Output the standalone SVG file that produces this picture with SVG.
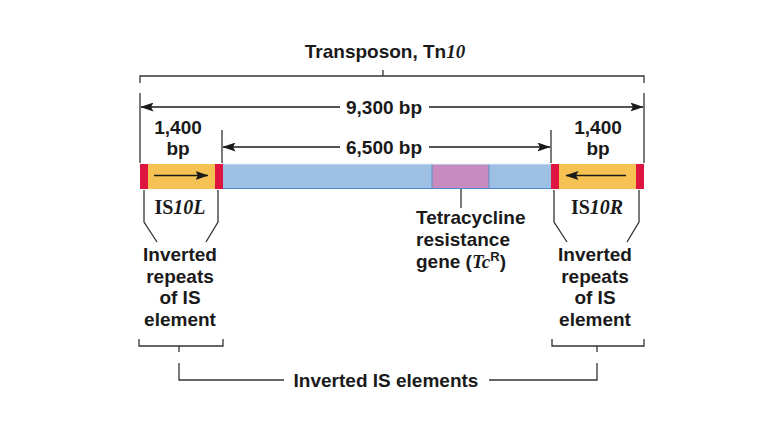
<svg xmlns="http://www.w3.org/2000/svg" width="768" height="432" viewBox="0 0 768 432">
<defs>
<marker id="ah" viewBox="0 0 13 9" refX="12.5" refY="4.5" markerWidth="13" markerHeight="9" markerUnits="userSpaceOnUse" orient="auto-start-reverse">
<path d="M0,0 L13,4.5 L0,9 L2.5,4.5 Z" fill="#1a1a1a"/>
</marker>
</defs>
<style>
text{font-family:"Liberation Sans",Arial,sans-serif;font-weight:bold;font-size:19px;fill:#1a1a1a}
.c{text-anchor:middle}
.it{font-family:"Liberation Serif","Times New Roman",serif;font-style:italic}
.sr{font-family:"Liberation Serif","Times New Roman",serif;font-size:20px}
.ln{fill:none;stroke:#333;stroke-width:1.3}
.ar{fill:none;stroke:#1a1a1a;stroke-width:1.5}
.red{fill:#e0153f}
.yel{fill:#f5c253}
.blu{fill:#9cbfe3}
.pnk{fill:#c78bbf}
</style>
<rect width="768" height="432" fill="#ffffff"/>

<g id="title">
<text class="c" x="385" y="58">Transposon, Tn<tspan class="it">10</tspan></text>
</g>

<g id="connectors">
<!-- top bracket -->
<path class="ln" d="M140,83 V76 H644 V83 M383,76 V70"/>
<!-- 9,300 bp dimension -->
<path class="ln" d="M140,93 V163 M644,93 V163 M222,130 V163 M551,130 V163"/>
<line class="ar" x1="340" y1="107" x2="141" y2="107" marker-end="url(#ah)"/>
<line class="ar" x1="429" y1="107" x2="643" y2="107" marker-end="url(#ah)"/>
<!-- 6,500 bp dimension -->
<line class="ar" x1="340" y1="147" x2="223" y2="147" marker-end="url(#ah)"/>
<line class="ar" x1="429" y1="147" x2="550" y2="147" marker-end="url(#ah)"/>
<!-- IS10L callout -->
<path class="ln" d="M144,190 V222 L157,242 M218,190 V222 L206,242"/>
<!-- IS10R callout -->
<path class="ln" d="M554,190 V222 L567,242 M639,190 V222 L627,242"/>
<!-- TcR pointer -->
<path class="ln" d="M461,189 V208"/>
<!-- bottom brackets -->
<path class="ln" d="M139,339 V346 H223 V339 M179,346 V352"/>
<path class="ln" d="M552,339 V346 H644 V339 M597,346 V352"/>
<path class="ln" d="M179,363 V380 H284 M489,380 H597 V363"/>
</g>

<g id="bar">
<rect class="blu" x="222" y="164" width="330" height="25"/>
<rect class="pnk" x="432" y="164" width="57" height="25"/>
<line x1="432" y1="164" x2="432" y2="189" stroke="#5a8fc8" stroke-width="1"/>
<line x1="489" y1="164" x2="489" y2="189" stroke="#5a8fc8" stroke-width="1"/>
<line x1="222" y1="188.5" x2="552" y2="188.5" stroke="#4a8ccc" stroke-width="1.2"/>
<line x1="222" y1="164.3" x2="552" y2="164.3" stroke="#c4daf0" stroke-width="0.8"/>
</g>

<g id="is10l">
<rect class="yel" x="148" y="164" width="67" height="25"/>
<rect class="red" x="140" y="164" width="8" height="25"/>
<rect class="red" x="215" y="164" width="8" height="25"/>
<line class="ar" x1="154" y1="175.5" x2="208" y2="175.5" marker-end="url(#ah)"/>
<text class="c sr" x="180" y="214">IS<tspan class="it">10L</tspan></text>
<text class="c" x="178" y="134">1,400</text>
<text class="c" x="178" y="155">bp</text>
</g>

<g id="is10r">
<rect class="yel" x="559" y="164" width="77" height="25"/>
<rect class="red" x="551" y="164" width="8" height="25"/>
<rect class="red" x="636" y="164" width="8" height="25"/>
<line class="ar" x1="626" y1="175.5" x2="566" y2="175.5" marker-end="url(#ah)"/>
<text class="c sr" x="597" y="214">IS<tspan class="it">10R</tspan></text>
<text class="c" x="598" y="134">1,400</text>
<text class="c" x="598" y="155">bp</text>
</g>

<g id="dim9300">
<text class="c" x="384" y="114">9,300 bp</text>
</g>
<g id="dim6500">
<text class="c" x="384" y="154">6,500 bp</text>
</g>

<g id="tcr">
<text x="416" y="224">Tetracycline</text>
<text x="416" y="246">resistance</text>
<text x="416" y="268">gene (<tspan class="it">Tc</tspan><tspan font-size="13" dy="-7">R</tspan><tspan dy="7">)</tspan></text>
</g>

<g id="irL">
<text class="c" x="180" y="261">Inverted</text>
<text class="c" x="180" y="283">repeats</text>
<text class="c" x="180" y="304">of IS</text>
<text class="c" x="180" y="326">element</text>
</g>

<g id="irR">
<text class="c" x="595" y="261">Inverted</text>
<text class="c" x="595" y="283">repeats</text>
<text class="c" x="595" y="304">of IS</text>
<text class="c" x="595" y="326">element</text>
</g>

<g id="invIS">
<text class="c" x="386" y="387">Inverted IS elements</text>
</g>
</svg>
